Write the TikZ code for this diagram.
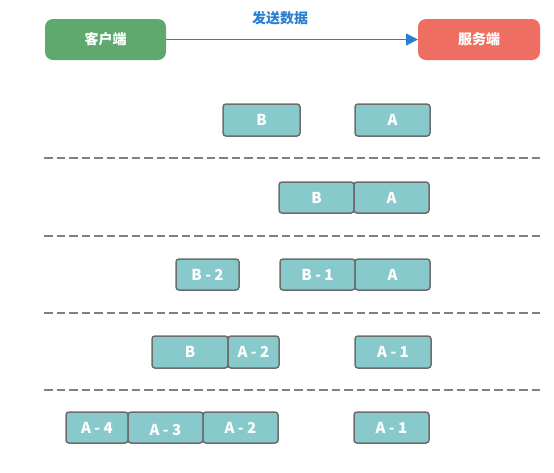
\documentclass[tikz,border=0pt]{standalone}
\usepackage{fontspec}
\setmainfont{Noto Sans CJK SC}
\usetikzlibrary{arrows.meta}
\definecolor{cgreen}{HTML}{5FA86E}
\definecolor{cred}{HTML}{EE6F61}
\definecolor{cteal}{HTML}{88C9CC}
\definecolor{cborder}{HTML}{6D6D6D}
\definecolor{cblue}{HTML}{2A7FD0}
\definecolor{cdash}{HTML}{7F7F85}
\tikzset{
  endbox/.style={rounded corners=8pt, text=white, font=\fontsize{14}{16}\selectfont\bfseries},
  pkt/.style={draw=cborder, line width=1.5pt, fill=cteal, rounded corners=3pt},
  pktxt/.style={text=white, font=\fontsize{15}{17}\selectfont\bfseries},
  sep/.style={draw=cdash, line width=1.8pt, dash pattern=on 8.5pt off 4pt},
}
\newcommand{\pkbox}[6]{% name, x1, x2, y1, y2, text
  \draw[pkt] (#2,#4) rectangle (#3,#5);
  \node[pktxt] (#1) at ({(#2+#3)/2},{(#4+#5)/2}) {#6};
}
\begin{document}
\begin{tikzpicture}[x=1pt,y=-1pt]
\useasboundingbox (0,0) rectangle (554,472);
% endpoints
\fill[cgreen, rounded corners=8pt] (45,19) rectangle (166,60);
\node[endbox] (client) at (105.5,39.5) {客户端};
\fill[cred, rounded corners=8pt] (418,19) rectangle (540,60);
\node[endbox] (server) at (479,39.5) {服务端};
\coordinate (cR) at (166,39.5);
\coordinate (sL) at (418,39.5);
\draw[cblue, line width=1.3pt, -{Triangle[length=12pt,width=12pt]}] (cR) -- (sL);
\node[text=cblue, font=\fontsize{14}{16}\selectfont\bfseries] (lbl) at (280,18) {发送数据};
% separators
\foreach \yy/\nm in {158/s1,236/s2,313/s3,390/s4}{
  \coordinate (\nm a) at (44,\yy);
  \coordinate (\nm b) at (540,\yy);
  \draw[sep] (\nm a) -- (\nm b);
}
% row 1
\pkbox{r1b}{223}{300}{104}{136}{B}
\pkbox{r1a}{355}{430}{104}{136}{A}
% row 2
\pkbox{r2b}{279}{354}{182}{213}{B}
\pkbox{r2a}{354}{429}{182}{213}{A}
% row 3
\pkbox{r3b2}{176}{239}{259}{290}{B - 2}
\pkbox{r3b1}{280}{355}{259}{290}{B - 1}
\pkbox{r3a}{355}{430}{259}{290}{A}
% row 4
\pkbox{r4b}{152}{228}{336}{368}{B}
\pkbox{r4a2}{228}{279}{336}{368}{A - 2}
\pkbox{r4a1}{355}{431}{336}{368}{A - 1}
% row 5
\pkbox{r5a4}{66}{128}{412}{443}{A - 4}
\draw[pkt] (128,412) rectangle (203,443);
\node[pktxt] (r5a3) at (165.5,430) {A - 3};
\pkbox{r5a2}{203}{278}{412}{443}{A - 2}
\pkbox{r5a1}{354}{429}{412}{443}{A - 1}
\end{tikzpicture}
\end{document}
